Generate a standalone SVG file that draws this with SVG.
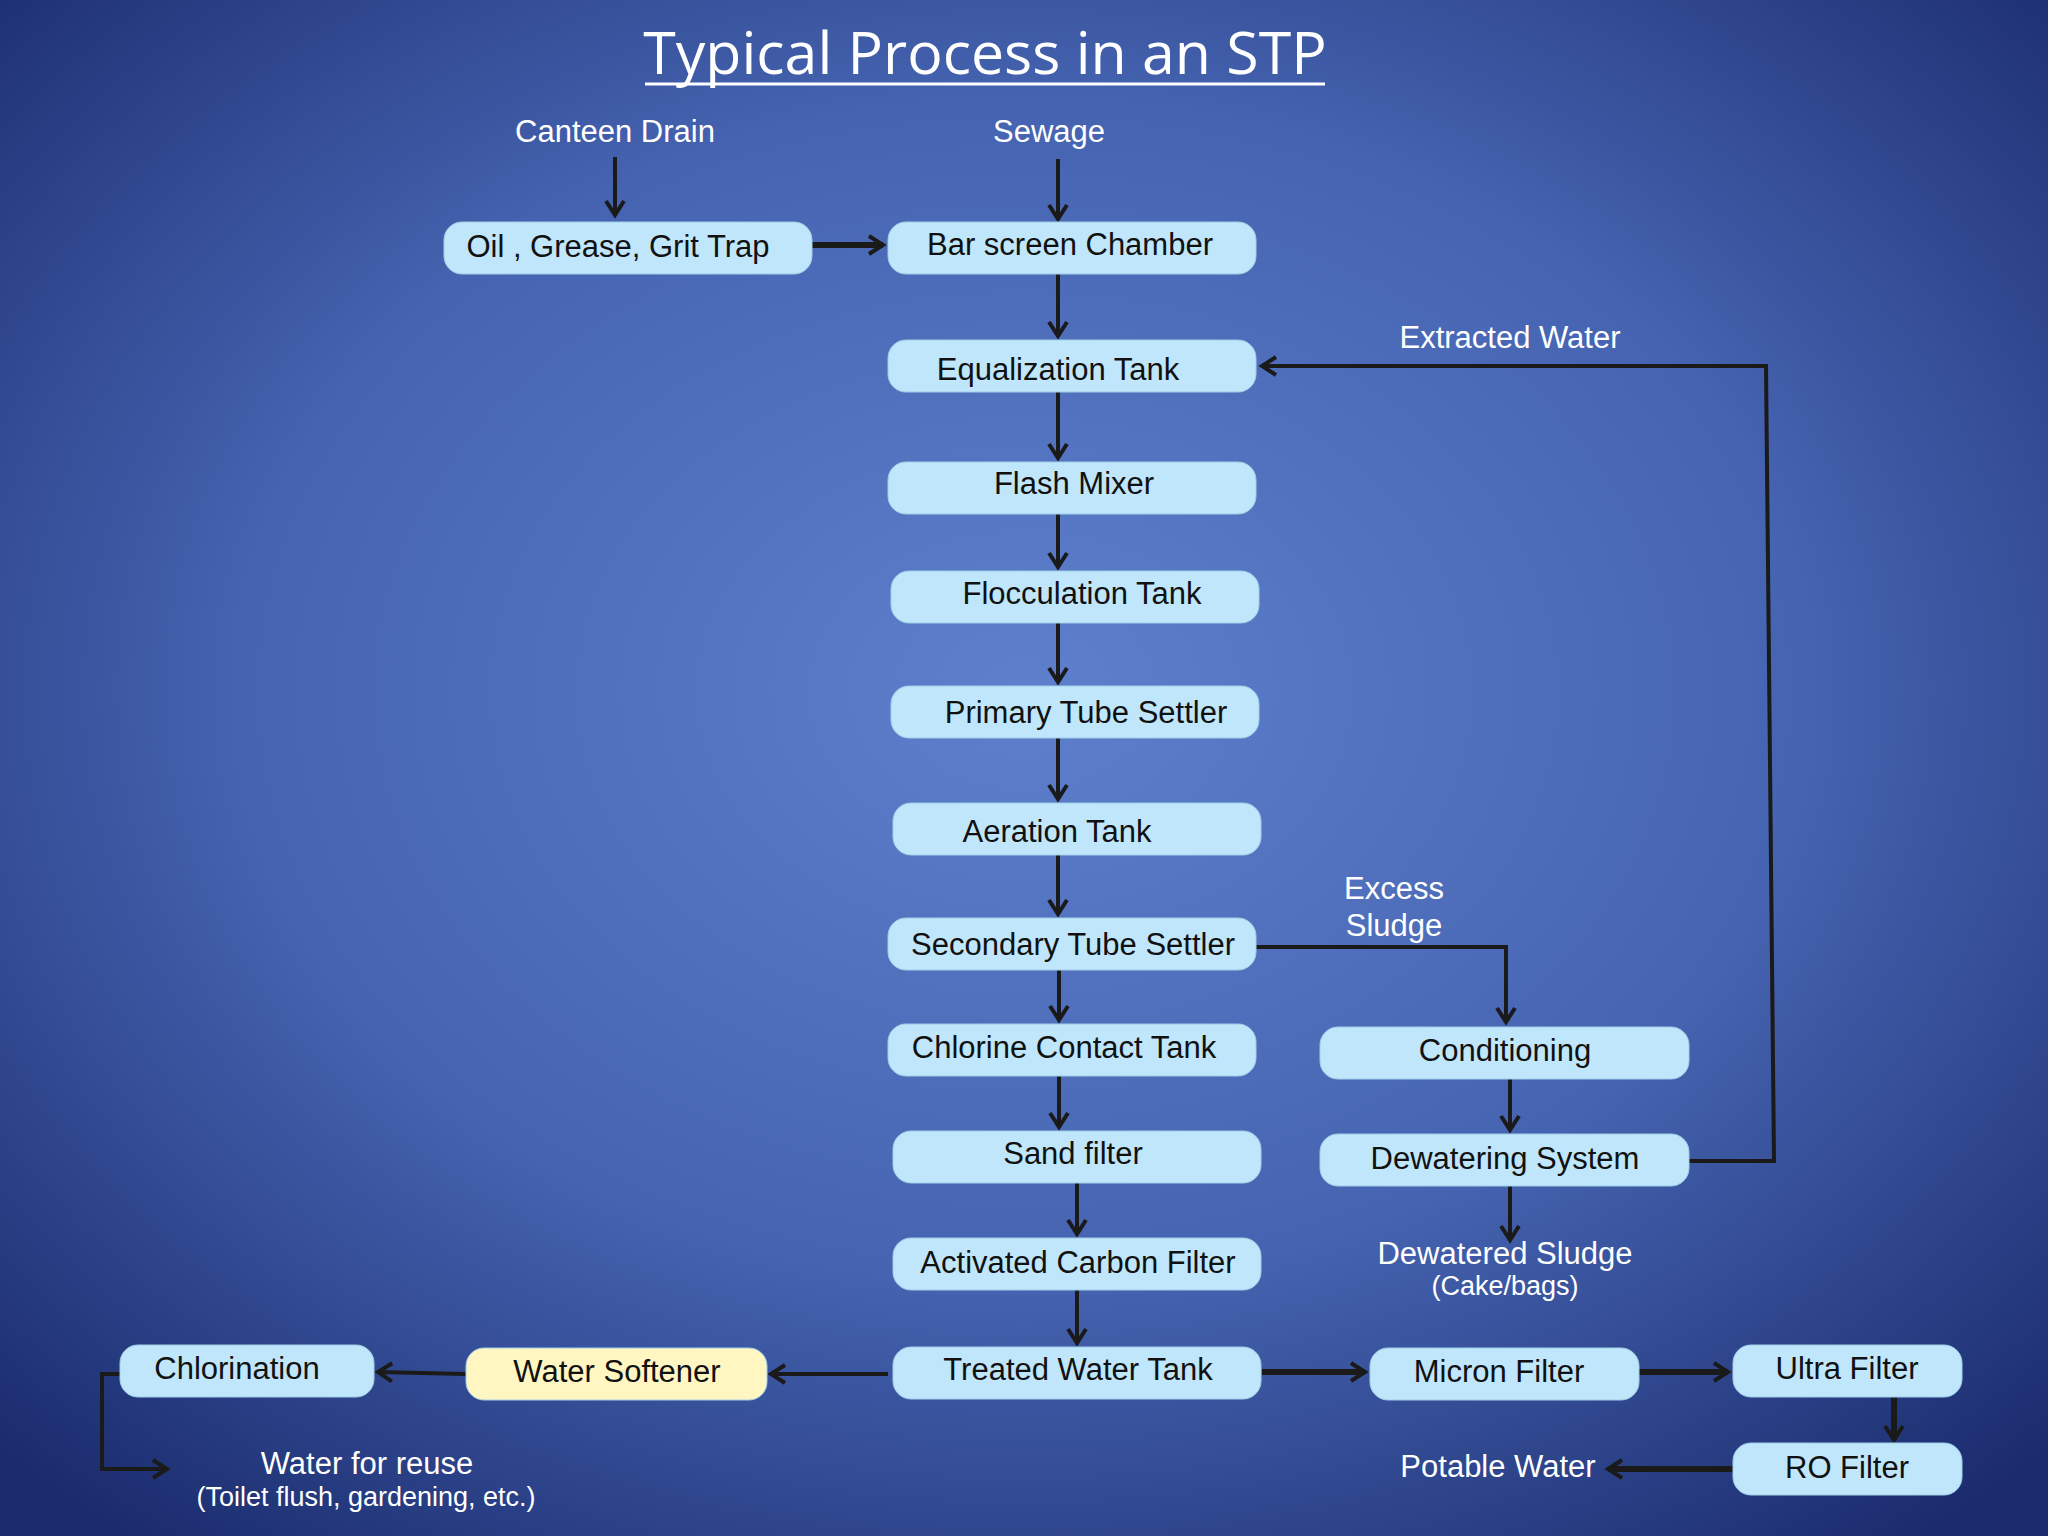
<svg xmlns="http://www.w3.org/2000/svg" width="2048" height="1536" viewBox="0 0 2048 1536">
<defs>
<radialGradient id="bg" cx="50%" cy="45%" r="70%">
<stop offset="0" stop-color="#5e80cc"/><stop offset="0.55" stop-color="#4563b0"/><stop offset="1" stop-color="#1b2c6e"/>
</radialGradient>
<marker id="ah" markerWidth="24" markerHeight="24" refX="20" refY="12" orient="auto" markerUnits="userSpaceOnUse">
<path d="M6,3 L20,12 L6,21" fill="none" stroke="#1a1a1a" stroke-width="4"/>
</marker>
<style>
.n rect{fill:#bfe6fa;stroke:#9fcfe8;stroke-width:1}
.n text{font-family:"Liberation Sans",Arial,sans-serif;font-size:31px;fill:#111;text-anchor:middle}
.y rect{fill:#fff6c2}
.l{font-family:"Liberation Sans",Arial,sans-serif;font-size:31px;fill:#fff;text-anchor:middle}
.s{font-size:27px}
#c path{fill:none;stroke:#1a1a1a;stroke-width:4;marker-end:url(#ah)}
#c path.t{stroke-width:6}
</style>
</defs>
<rect width="2048" height="1536" fill="url(#bg)"/>
<text x="985" y="74" font-family="'Open Sans','Liberation Sans',sans-serif" font-size="59" fill="#fff" text-anchor="middle">Typical Process in an STP</text>
<line x1="645" y1="84" x2="1325" y2="84" stroke="#fff" stroke-width="3"/>
<text class="l" x="615" y="142">Canteen Drain</text>
<text class="l" x="1049" y="142">Sewage</text>
<text class="l" x="1510" y="348">Extracted Water</text>
<text class="l" x="1394" y="899">Excess</text>
<text class="l" x="1394" y="936">Sludge</text>
<text class="l" x="1505" y="1264">Dewatered Sludge</text>
<text class="l s" x="1505" y="1295">(Cake/bags)</text>
<text class="l" x="367" y="1474">Water for reuse</text>
<text class="l s" x="366" y="1506">(Toilet flush, gardening, etc.)</text>
<text class="l" x="1498" y="1477">Potable Water</text>
<g id="c">
<path d="M615,157 V215"/>
<path d="M1058,159 V219"/>
<path class="t" d="M812,245 H883"/>
<path d="M1058,274 V336"/>
<path d="M1058,392 V458"/>
<path d="M1058,514 V567"/>
<path d="M1058,623 V682"/>
<path d="M1058,738 V799"/>
<path d="M1058,855 V914"/>
<path d="M1059,970 V1020"/>
<path d="M1059,1076 V1127"/>
<path d="M1077,1183 V1234"/>
<path d="M1077,1290 V1343"/>
<path d="M1689,1161 H1774 L1766,366 H1262"/>
<path d="M1256,947 H1506 V1022"/>
<path d="M1510,1079 V1130"/>
<path d="M1510,1186 V1240"/>
<path class="t" d="M1262,1372 H1365"/>
<path class="t" d="M1639,1372 H1728"/>
<path class="t" d="M1894,1397 V1440"/>
<path class="t" d="M1733,1469 H1608"/>
<path d="M888,1374 H771"/>
<path d="M466,1374 L378,1372"/>
<path d="M120,1374 H102 V1469 H167"/>
</g>
<g id="oil" class="n"><rect x="444" y="222" width="368" height="52" rx="18"/><text x="618" y="257">Oil , Grease, Grit Trap</text></g>
<g id="bar" class="n"><rect x="888" y="222" width="368" height="52" rx="18"/><text x="1070" y="255">Bar screen Chamber</text></g>
<g id="eq" class="n"><rect x="888" y="340" width="368" height="52" rx="18"/><text x="1058" y="380">Equalization Tank</text></g>
<g id="flash" class="n"><rect x="888" y="462" width="368" height="52" rx="18"/><text x="1074" y="494">Flash Mixer</text></g>
<g id="floc" class="n"><rect x="891" y="571" width="368" height="52" rx="18"/><text x="1082" y="604">Flocculation Tank</text></g>
<g id="pts" class="n"><rect x="891" y="686" width="368" height="52" rx="18"/><text x="1086" y="723">Primary Tube Settler</text></g>
<g id="aer" class="n"><rect x="893" y="803" width="368" height="52" rx="18"/><text x="1057" y="842">Aeration Tank</text></g>
<g id="sts" class="n"><rect x="888" y="918" width="368" height="52" rx="18"/><text x="1073" y="955">Secondary Tube Settler</text></g>
<g id="cct" class="n"><rect x="888" y="1024" width="368" height="52" rx="18"/><text x="1064" y="1058">Chlorine Contact Tank</text></g>
<g id="sand" class="n"><rect x="893" y="1131" width="368" height="52" rx="18"/><text x="1073" y="1164">Sand filter</text></g>
<g id="acf" class="n"><rect x="893" y="1238" width="368" height="52" rx="18"/><text x="1078" y="1273">Activated Carbon Filter</text></g>
<g id="twt" class="n"><rect x="893" y="1347" width="368" height="52" rx="18"/><text x="1078" y="1380">Treated Water Tank</text></g>
<g id="cond" class="n"><rect x="1320" y="1027" width="369" height="52" rx="18"/><text x="1505" y="1061">Conditioning</text></g>
<g id="dew" class="n"><rect x="1320" y="1134" width="369" height="52" rx="18"/><text x="1505" y="1169">Dewatering System</text></g>
<g id="micron" class="n"><rect x="1370" y="1348" width="269" height="52" rx="18"/><text x="1499" y="1382">Micron Filter</text></g>
<g id="uf" class="n"><rect x="1733" y="1345" width="229" height="52" rx="18"/><text x="1847" y="1379">Ultra Filter</text></g>
<g id="ro" class="n"><rect x="1733" y="1443" width="229" height="52" rx="18"/><text x="1847" y="1478">RO Filter</text></g>
<g id="soft" class="n y"><rect x="466" y="1348" width="301" height="52" rx="18"/><text x="617" y="1382">Water Softener</text></g>
<g id="chl" class="n"><rect x="120" y="1345" width="254" height="52" rx="18"/><text x="237" y="1379">Chlorination</text></g>
</svg>
